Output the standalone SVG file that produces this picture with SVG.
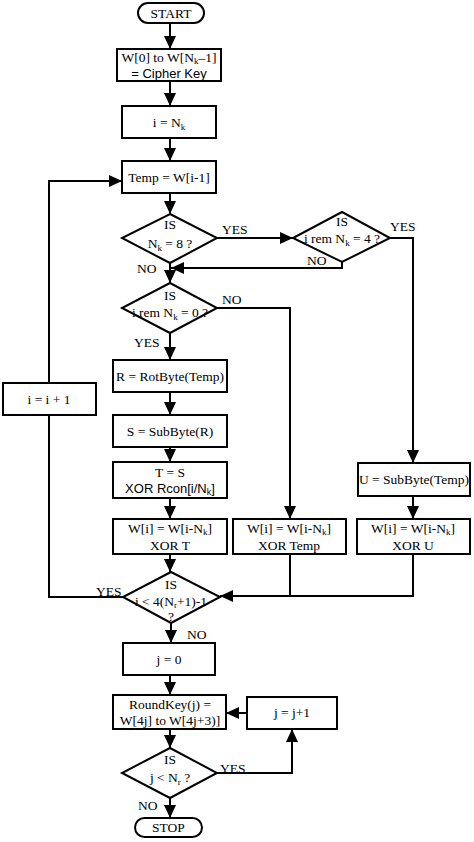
<svg xmlns="http://www.w3.org/2000/svg" width="474" height="842" viewBox="0 0 474 842">
<defs>
<marker id="ah" markerUnits="userSpaceOnUse" markerWidth="14" markerHeight="14" viewBox="0 0 14 14" refX="13" refY="7" orient="auto">
<path d="M0,1 L13,7 L0,13 Z" fill="#000"/>
</marker>
<style>
.bx{fill:#fff;stroke:#000;stroke-width:2}
.ln{fill:none;stroke:#000;stroke-width:2}
.ar{fill:none;stroke:#000;stroke-width:2;marker-end:url(#ah)}
text{font-family:"Liberation Serif","Times New Roman",serif;font-size:13.5px;fill:#000;text-anchor:middle}
.sans{font-family:"Liberation Sans",Arial,sans-serif;font-size:13px}
.sub{font-size:9px}
.lb{text-anchor:start}
</style>
</defs>
<rect width="474" height="842" fill="#fff"/>
<g id="connectors">
<path class="ar" d="M170,23 V49"/>
<path class="ar" d="M170,81 V106"/>
<path class="ar" d="M170,138 V161"/>
<path class="ar" d="M170,193 V214"/>
<path class="ar" d="M217,238 H293"/>
<path class="ar" d="M342,262 V268 H171"/>
<path class="ar" d="M170,263 V283"/>
<path class="ar" d="M217,308 H290 V519"/>
<path class="ar" d="M390,238 H413 V463"/>
<path class="ar" d="M170,333 V360"/>
<path class="ar" d="M170,392 V415"/>
<path class="ar" d="M170,447 V462"/>
<path class="ar" d="M170,498 V519"/>
<path class="ar" d="M413,496 V519"/>
<path class="ar" d="M170,554 V572"/>
<path class="ln" d="M290,554 V596"/>
<path class="ar" d="M413,554 V596 H220"/>
<path class="ar" d="M123,597 H49 V181 H122"/>
<path class="ar" d="M171,623 V643"/>
<path class="ar" d="M170,675 V695"/>
<path class="ar" d="M170,729 V748"/>
<path class="ar" d="M217,773 H292 V729"/>
<path class="ar" d="M247,713 H226"/>
<path class="ar" d="M170,798 V818"/>
</g>
<g id="labels">
<text class="lb" x="222" y="234">YES</text>
<text class="lb" x="390" y="231">YES</text>
<text class="lb" x="307" y="265">NO</text>
<text class="lb" x="137" y="273">NO</text>
<text class="lb" x="222" y="304">NO</text>
<text class="lb" x="134" y="347">YES</text>
<text class="lb" x="96" y="596">YES</text>
<text class="lb" x="187" y="639">NO</text>
<text class="lb" x="220" y="773">YES</text>
<text class="lb" x="138" y="810">NO</text>
</g>
<g id="start">
<rect class="bx" x="138" y="3" width="66" height="20" rx="10"/>
<text x="171" y="18">START</text>
</g>
<g id="init-key">
<rect class="bx" x="117" y="49" width="104" height="32"/>
<text x="169" y="62">W[0] to W[N<tspan class="sub" dy="2">k</tspan><tspan dy="-2">–1]</tspan></text>
<text class="sans" x="169" y="77.5">= Cipher Key</text>
</g>
<g id="i-nk">
<rect class="bx" x="122" y="106" width="94" height="32"/>
<text x="169" y="127">i = N<tspan class="sub" dy="3">k</tspan></text>
</g>
<g id="temp">
<rect class="bx" x="122" y="161" width="94" height="32"/>
<text x="169" y="182">Temp = W[i-1]</text>
</g>
<g id="d-nk8">
<polygon class="bx" points="170,214 217,238 170,263 122,238"/>
<text x="170" y="229">IS</text>
<text x="170" y="248">N<tspan class="sub" dy="3">k</tspan><tspan dy="-3"> = 8 ?</tspan></text>
</g>
<g id="d-rem4">
<polygon class="bx" points="342,212 390,238 342,262 293,238"/>
<text x="342" y="226">IS</text>
<text x="342" y="243">i rem N<tspan class="sub" dy="3">k</tspan><tspan dy="-3"> = 4 ?</tspan></text>
</g>
<g id="d-rem0">
<polygon class="bx" points="170,283 217,308 170,333 122,308"/>
<text x="170" y="300">IS</text>
<text x="170" y="317">i rem N<tspan class="sub" dy="3">k</tspan><tspan dy="-3"> = 0 ?</tspan></text>
</g>
<g id="inc-i">
<rect class="bx" x="3" y="383" width="93" height="32"/>
<text x="49" y="404">i = i + 1</text>
</g>
<g id="rotbyte">
<rect class="bx" x="113" y="360" width="114" height="32"/>
<text x="170" y="381">R = RotByte(Temp)</text>
</g>
<g id="subbyte-r">
<rect class="bx" x="113" y="415" width="114" height="32"/>
<text x="170" y="436">S = SubByte(R)</text>
</g>
<g id="t-rcon">
<rect class="bx" x="113" y="462" width="114" height="36"/>
<text x="170" y="477">T = S</text>
<text class="sans" x="170" y="493">XOR Rcon[i/N<tspan class="sub" dy="2">k</tspan><tspan dy="-2">]</tspan></text>
</g>
<g id="w-xor-t">
<rect class="bx" x="113" y="519" width="114" height="35"/>
<text x="170" y="533">W[i] = W[i-N<tspan class="sub" dy="2">k</tspan><tspan dy="-2">]</tspan></text>
<text x="170" y="550">XOR T</text>
</g>
<g id="w-xor-temp">
<rect class="bx" x="233" y="519" width="113" height="35"/>
<text x="289" y="533">W[i] = W[i-N<tspan class="sub" dy="2">k</tspan><tspan dy="-2">]</tspan></text>
<text x="289" y="550">XOR Temp</text>
</g>
<g id="u-subbyte">
<rect class="bx" x="358" y="463" width="112" height="33"/>
<text x="414" y="484">U = SubByte(Temp)</text>
</g>
<g id="w-xor-u">
<rect class="bx" x="357" y="519" width="113" height="35"/>
<text x="413" y="533">W[i] = W[i-N<tspan class="sub" dy="2">k</tspan><tspan dy="-2">]</tspan></text>
<text x="413" y="550">XOR U</text>
</g>
<g id="d-loop">
<polygon class="bx" points="171,572 220,597 171,623 123,597"/>
<text x="171" y="589">IS</text>
<text x="171" y="606">i &lt; 4(N<tspan class="sub" dy="2">r</tspan><tspan dy="-2">+1)-1</tspan></text>
<text x="171" y="621">?</text>
</g>
<g id="j0">
<rect class="bx" x="123" y="643" width="92" height="32"/>
<text x="169" y="664">j = 0</text>
</g>
<g id="roundkey">
<rect class="bx" x="113" y="695" width="113" height="34"/>
<text x="170" y="709">RoundKey(j) =</text>
<text x="170" y="725">W[4j] to W[4j+3)]</text>
</g>
<g id="inc-j">
<rect class="bx" x="247" y="697" width="90" height="32"/>
<text x="292" y="717">j = j+1</text>
</g>
<g id="d-j">
<polygon class="bx" points="170,748 217,773 170,798 122,773"/>
<text x="170" y="764">IS</text>
<text x="170" y="782">j &lt; N<tspan class="sub" dy="3">r</tspan><tspan dy="-3"> ?</tspan></text>
</g>
<g id="stop">
<rect class="bx" x="135" y="818" width="67" height="19" rx="9.5"/>
<text x="168.5" y="832">STOP</text>
</g>
</svg>
